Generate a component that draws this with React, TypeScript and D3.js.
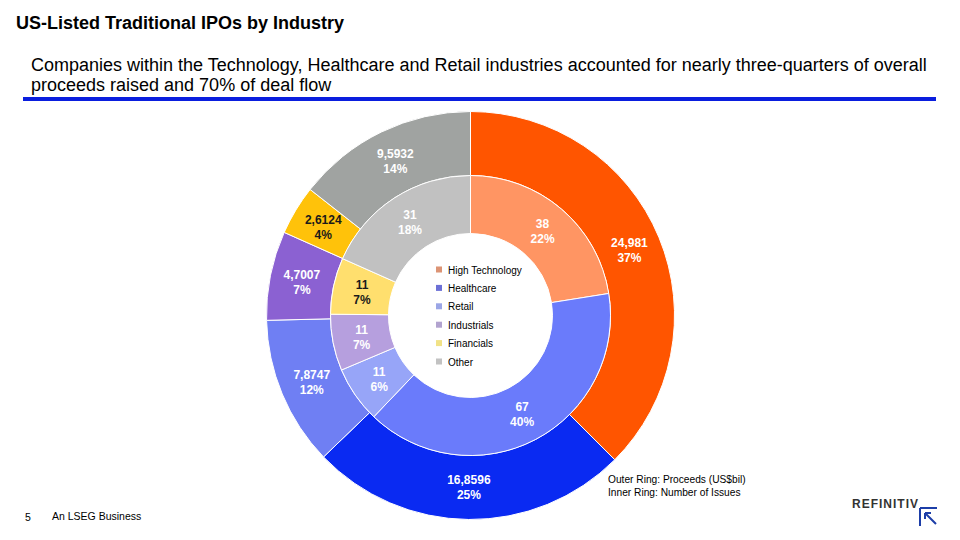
import React from 'react';
import * as d3 from 'd3';

// industries, clockwise from 12 o'clock
const industries = ['High Technology', 'Healthcare', 'Retail', 'Industrials', 'Financials', 'Other'];

// outer ring: proceeds (US$bil)
const proceeds = [24.981, 16.8596, 7.8747, 4.7007, 2.6124, 9.5932];
const proceedsLabels = ['24,981', '16,8596', '7,8747', '4,7007', '2,6124', '9,5932'];
const proceedsPct = ['37%', '25%', '12%', '7%', '4%', '14%'];

// inner ring: number of issues
const issues = [38, 67, 11, 11, 11, 31];
const issuesPct = ['22%', '40%', '6%', '7%', '7%', '18%'];

const outerColors = ['#ff5500', '#0a2af2', '#6f7ff3', '#8b61d2', '#ffc20a', '#a0a3a1'];
const innerColors = ['#ff9563', '#6a7bfb', '#97a5f8', '#b69fde', '#ffdf6e', '#c1c1c1'];
const legendColors = ['#dc9475', '#6c70d6', '#9ba6e6', '#b2a3cf', '#f1e286', '#c2c2c2'];
const darkLabel = [false, false, false, false, true, false];

const cx = 470.5;
const cy = 315.5;
const rHole = 82;
const rMid = 140;
const rOuter = 204;

const font = '"Liberation Sans", Arial, sans-serif';

export default function App() {
  const pie = d3.pie<number>().sort(null).value(d => d);
  const outerArc = d3.arc<d3.PieArcDatum<number>>().innerRadius(rMid).outerRadius(rOuter);
  const innerArc = d3.arc<d3.PieArcDatum<number>>().innerRadius(rHole).outerRadius(rMid);
  const outerSlices = pie(proceeds);
  const innerSlices = pie(issues);

  const legendY = d3.scalePoint<string>().domain(industries).range([270, 362]);

  const label = (x: number, y: number, a: string, b: string, dark: boolean, key: string) => (
    <text key={key} x={x} y={y} textAnchor="middle" fontSize={12} fontWeight="bold"
      fill={dark ? '#1a1a1a' : '#ffffff'} fontFamily={font}>
      <tspan x={x} dy="-0.25em">{a}</tspan>
      <tspan x={x} dy="1.25em">{b}</tspan>
    </text>
  );

  return (
    <svg width={960} height={540} style={{ position: 'absolute', left: 0, top: 0 }}>
      <rect width={960} height={540} fill="#ffffff" />
      <text x={16} y={29} fontSize={18} fontWeight="bold" fontFamily={font} fill="#000">
        US-Listed Traditional IPOs by Industry
      </text>
      <text x={31} y={71} fontSize={18} fontFamily={font} fill="#000">
        Companies within the Technology, Healthcare and Retail industries accounted for nearly three-quarters of overall
      </text>
      <text x={31} y={91} fontSize={18} fontFamily={font} fill="#000">
        proceeds raised and 70% of deal flow
      </text>
      <rect x={23} y={97} width={913} height={4} fill="#0a1ede" />

      <g transform={`translate(${cx},${cy})`}>
        {outerSlices.map((s, i) => (
          <path key={`o${i}`} d={outerArc(s) || ''} fill={outerColors[i]} stroke="#ffffff" strokeWidth={1} />
        ))}
        {innerSlices.map((s, i) => (
          <path key={`i${i}`} d={innerArc(s) || ''} fill={innerColors[i]} stroke="#ffffff" strokeWidth={1} />
        ))}
        {outerSlices.map((s, i) => {
          const [x, y] = outerArc.centroid(s);
          return label(x, y, proceedsLabels[i], proceedsPct[i], darkLabel[i], `ol${i}`);
        })}
        {innerSlices.map((s, i) => {
          const [x, y] = innerArc.centroid(s);
          return label(x, y, String(issues[i]), issuesPct[i], darkLabel[i], `il${i}`);
        })}
      </g>

      {industries.map((name, i) => {
        const y = legendY(name) as number;
        return (
          <g key={name}>
            <rect x={436} y={y - 3.5} width={6} height={6} fill={legendColors[i]} />
            <text x={448} y={y + 3.5} fontSize={10} fontFamily={font} fill="#000">{name}</text>
          </g>
        );
      })}

      <text x={608} y={483} fontSize={10.2} fontFamily={font} fill="#000">Outer Ring: Proceeds (US$bil)</text>
      <text x={608} y={496} fontSize={10.2} fontFamily={font} fill="#000">Inner Ring: Number of Issues</text>

      <text x={25} y={521} fontSize={10.5} fontFamily={font} fill="#000">5</text>
      <text x={52} y={520} fontSize={10.5} fontFamily={font} fill="#000">An LSEG Business</text>

      <text x={852} y={508} fontSize={12} fontWeight="bold" letterSpacing={1} fontFamily={font} fill="#333">
        REFINITIV
      </text>
      <path d="M920,508 L937,508 M920,508 L920,526 M925,513 L936,524 M925,513 L925,519 M925,513 L931,513"
        stroke="#1d3ea8" strokeWidth={2} fill="none" />
    </svg>
  );
}
